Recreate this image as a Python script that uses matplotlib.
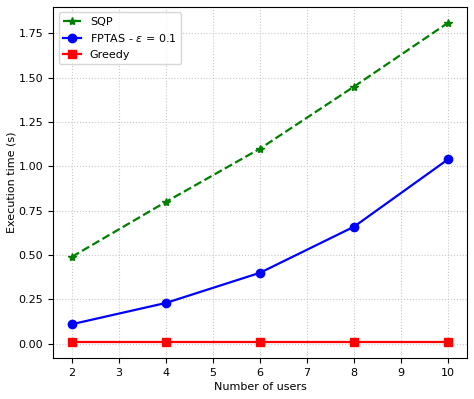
import matplotlib
matplotlib.use("Agg")
import matplotlib.pyplot as plt

users = [2, 4, 6, 8, 10]
sqp = [0.49, 0.80, 1.10, 1.45, 1.81]
fptas = [0.11, 0.23, 0.40, 0.66, 1.04]
greedy = [0.01, 0.01, 0.01, 0.01, 0.01]

fs = 8
fig = plt.figure(figsize=(4.74, 3.99), dpi=100)
ax = fig.add_axes([0.112, 0.103, 0.873, 0.88])
ax.plot(users, sqp, 'g--*', lw=1.6, ms=6, label='SQP')
ax.plot(users, fptas, 'b-o', lw=1.6, ms=6, label=r'FPTAS - $\epsilon$ = 0.1')
ax.plot(users, greedy, 'r-s', lw=1.6, ms=5.5, label='Greedy')
ax.grid(True, linestyle=':', color='#c8c8c8', lw=0.8)
ax.set_xlabel('Number of users', fontsize=fs, labelpad=3)
ax.set_ylabel('Execution time (s)', fontsize=fs, labelpad=1.5)
ax.tick_params(labelsize=fs)
ax.legend(loc='upper left', fontsize=fs, handlelength=1.6)
fig.savefig('out.png', dpi=100)
